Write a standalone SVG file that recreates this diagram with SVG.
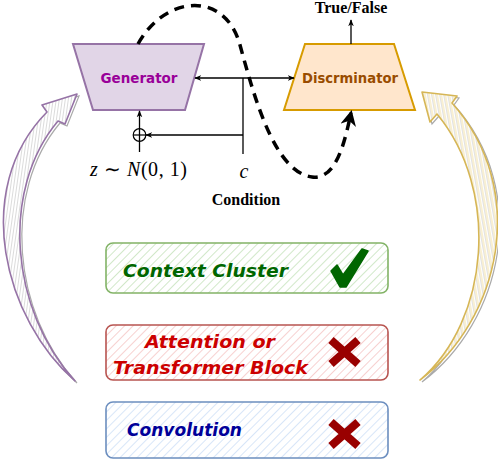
<svg xmlns="http://www.w3.org/2000/svg" width="498" height="461" viewBox="0 0 498 461">
<defs>
  <style>
    .conn{stroke:#000;stroke-width:1.3;fill:none}
    .lbl{font-family:"Liberation Serif","Times New Roman",serif;font-weight:bold;font-size:16px;fill:#000}
    .math{font-family:"Liberation Serif","Times New Roman",serif;font-size:20px;fill:#000}
    .node{font-family:"DejaVu Sans","Verdana",sans-serif;font-weight:bold;font-size:14px}
    .hand{font-family:"Comic Sans MS","DejaVu Sans",sans-serif;font-weight:bold;font-style:italic;font-size:18px}
  </style>
  <marker id="ah" viewBox="0 0 10 10" refX="9" refY="5" markerWidth="7" markerHeight="7" orient="auto-start-reverse" markerUnits="userSpaceOnUse">
    <path d="M0,1 L10,5 L0,9 L3,5 Z" fill="#000"/>
  </marker>
  <marker id="ahBig" viewBox="0 0 10 10" refX="8" refY="5" markerWidth="4.5" markerHeight="4.5" orient="auto">
    <path d="M0,0 L10,5 L0,10 L3,5 Z" fill="#000"/>
  </marker>
  <pattern id="hG" width="6" height="6" patternUnits="userSpaceOnUse" patternTransform="rotate(45)">
    <rect width="6" height="6" fill="#fff"/><line x1="0" y1="0" x2="0" y2="6" stroke="#c5e3bc" stroke-width="1.6"/>
  </pattern>
  <pattern id="hR" width="6" height="6" patternUnits="userSpaceOnUse" patternTransform="rotate(45)">
    <rect width="6" height="6" fill="#fff"/><line x1="0" y1="0" x2="0" y2="6" stroke="#f6c6c4" stroke-width="1.6"/>
  </pattern>
  <pattern id="hB" width="6" height="6" patternUnits="userSpaceOnUse" patternTransform="rotate(45)">
    <rect width="6" height="6" fill="#fff"/><line x1="0" y1="0" x2="0" y2="6" stroke="#cfe0f7" stroke-width="1.6"/>
  </pattern>
  <pattern id="hP" width="3" height="3" patternUnits="userSpaceOnUse" patternTransform="rotate(8)">
    <rect width="3" height="3" fill="#fff"/><line x1="0" y1="0" x2="0" y2="3" stroke="#b0b0b0" stroke-width="0.9"/>
  </pattern>
  <pattern id="hY" width="4" height="4" patternUnits="userSpaceOnUse" patternTransform="rotate(-10)">
    <rect width="4" height="4" fill="#fff"/><line x1="0" y1="0" x2="0" y2="4" stroke="#c0c0c0" stroke-width="0.9"/><line x1="2" y1="0" x2="2" y2="4" stroke="#f0dc9c" stroke-width="0.9"/>
  </pattern>
</defs>

<g id="arrow-left">
  <path d="M77,383 C 7,322 -28,192 49,114 L 44,107 L 79,96 L 67,126 L 60,123 C 2,192 12,312 77,383 Z" fill="none" stroke="#aaa" stroke-width="1.2"/>
  <path d="M75,381 C 5,320 -30,190 47,112 L 42,105 L 77,94 L 65,124 L 58,121 C 0,190 10,310 75,381 Z" fill="url(#hP)" stroke="#9673a6" stroke-width="1.6" stroke-linejoin="round"/>
</g>

<g id="arrow-right">
  <path d="M422,382 C 502,322 532,192 454,105 L 459,98 L 424,94 L 432,124 L 439,116 C 502,192 492,322 422,382 Z" fill="none" stroke="#aaa" stroke-width="1.2"/>
  <path d="M420,380 C 500,320 530,190 452,103 L 457,96 L 422,92 L 430,122 L 437,114 C 500,190 490,320 420,380 Z" fill="url(#hY)" stroke="#d6b656" stroke-width="1.6" stroke-linejoin="round"/>
</g>

<g id="generator">
  <polygon points="73,44 204,44 185,110 93,110" fill="#e1d5e7" stroke="#9673a6" stroke-width="2"/>
  <text class="node" x="139" y="83" text-anchor="middle" fill="#990099" textLength="77" lengthAdjust="spacingAndGlyphs">Generator</text>
</g>

<g id="discriminator">
  <polygon points="305,44 394,44 415,110 284,110" fill="#ffe6cc" stroke="#d79b00" stroke-width="2"/>
  <text class="node" x="350" y="83" text-anchor="middle" fill="#994c00" textLength="96" lengthAdjust="spacingAndGlyphs">Discrminator</text>
</g>

<g id="labels">
  <text class="lbl" x="351" y="13" text-anchor="middle">True/False</text>
  <text class="lbl" x="246" y="205" text-anchor="middle">Condition</text>
  <text class="math" x="90" y="176" textLength="97" lengthAdjust="spacing"><tspan font-style="italic">z</tspan> ∼ <tspan font-style="italic">N</tspan>(0, 1)</text>
  <text class="math" x="244" y="178" text-anchor="middle" font-style="italic">c</text>
</g>

<g id="connectors">
  <line class="conn" x1="351" y1="44" x2="351" y2="20" marker-end="url(#ah)"/>
  <line class="conn" x1="195" y1="78" x2="294" y2="78" marker-start="url(#ah)" marker-end="url(#ah)"/>
  <line class="conn" x1="243" y1="78" x2="243" y2="154"/>
  <line class="conn" x1="243" y1="135" x2="146" y2="135" marker-end="url(#ah)"/>
  <circle cx="139.5" cy="135" r="6.3" fill="none" stroke="#000" stroke-width="1.2"/>
  <line x1="133.2" y1="135" x2="145.8" y2="135" stroke="#000" stroke-width="1.2"/>
  <line class="conn" x1="139.5" y1="152" x2="139.5" y2="111" marker-end="url(#ah)"/>
  <path d="M138,44 C 165,-5 225,-10 240,45 C 255,100 275,172 312,177 C 337,180 345,140 351,113" fill="none" stroke="#000" stroke-width="3.5" stroke-dasharray="10,7" marker-end="url(#ahBig)"/>
</g>

<g id="context-cluster">
  <rect x="106" y="243" width="282" height="50" rx="7" fill="url(#hG)" stroke="#82b366" stroke-width="1.6"/>
  <text class="hand" x="123" y="277" fill="#006600" textLength="165" lengthAdjust="spacingAndGlyphs">Context Cluster</text>
  <path d="M331,271 L337,265 L343,275 L362,249 L368,251 L346,287 L340,287 Z" fill="#006600" stroke="#006600" stroke-width="1.5" stroke-linejoin="round"/>
</g>

<g id="attention">
  <rect x="106" y="325" width="282" height="55" rx="7" fill="url(#hR)" stroke="#b85450" stroke-width="1.6"/>
  <text class="hand" x="145" y="348" fill="#cc0000" textLength="130" lengthAdjust="spacingAndGlyphs">Attention or</text>
  <text class="hand" x="113" y="374" fill="#cc0000" textLength="195" lengthAdjust="spacingAndGlyphs">Transformer Block</text>
  <path d="M331,340 L358,364 M358,340 L331,364" stroke="#990000" stroke-width="8"/>
</g>

<g id="convolution">
  <rect x="106" y="402" width="282" height="56" rx="7" fill="url(#hB)" stroke="#6c8ebf" stroke-width="1.6"/>
  <text class="hand" x="127" y="436" fill="#000099" textLength="115" lengthAdjust="spacingAndGlyphs">Convolution</text>
  <path d="M331,422 L358,446 M358,422 L331,446" stroke="#990000" stroke-width="8"/>
</g>
</svg>
